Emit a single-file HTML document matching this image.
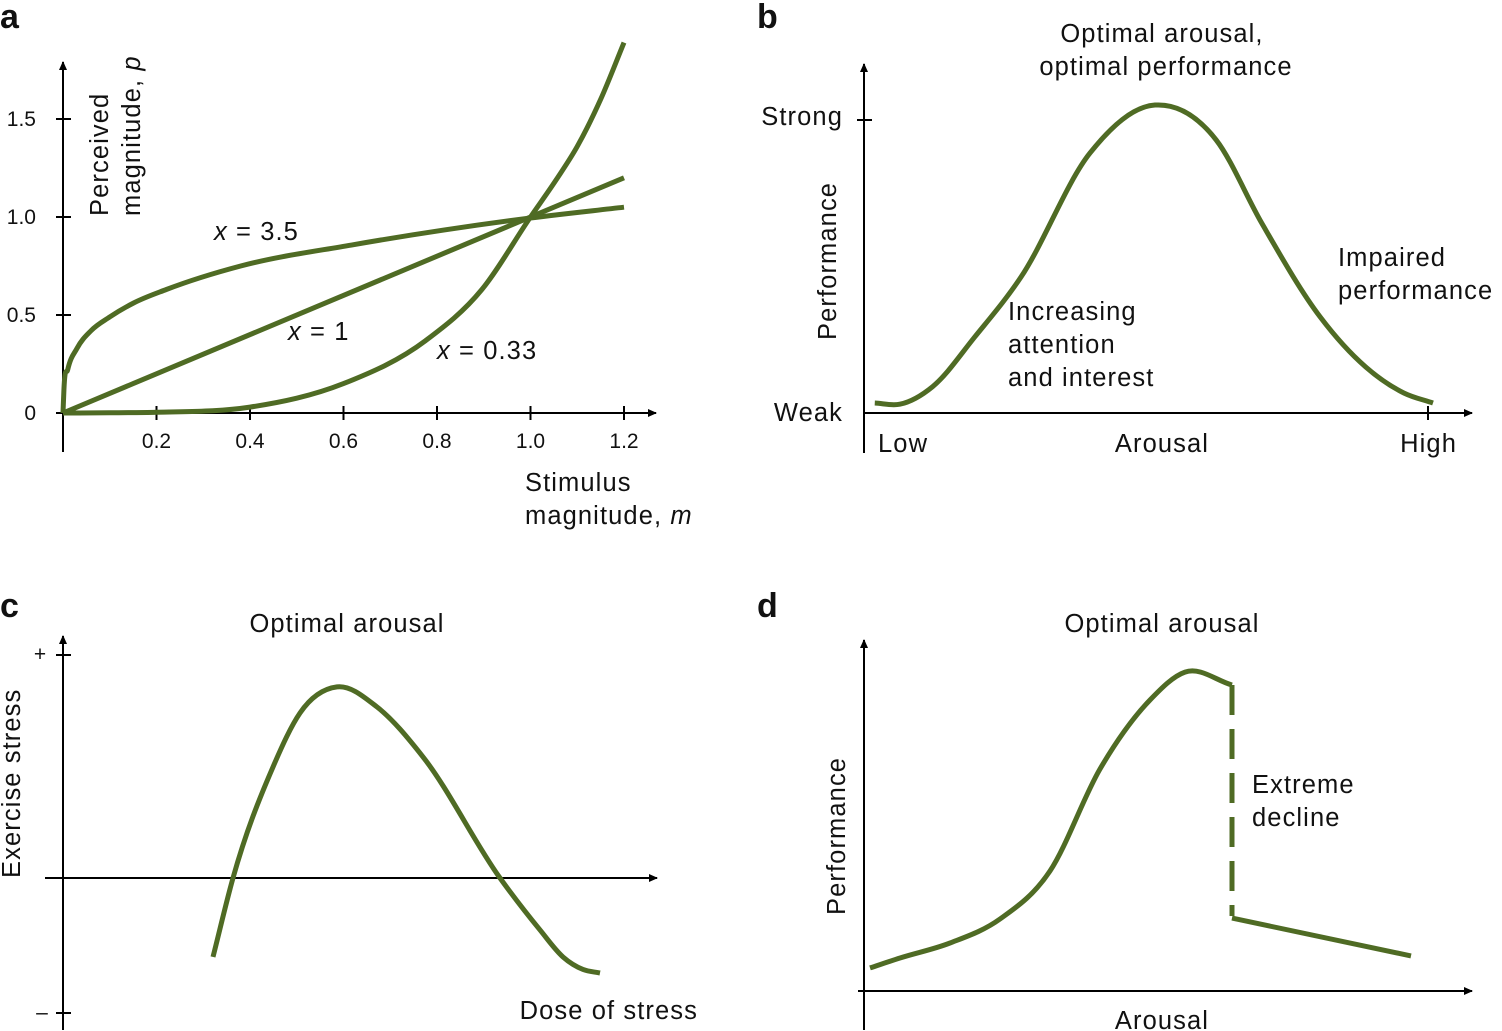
<!DOCTYPE html>
<html><head><meta charset="utf-8"><style>
body{margin:0;background:#fff}
svg{display:block;font-family:"Liberation Sans",sans-serif}
text{fill:#111}
.ax{stroke:#000;stroke-width:2;fill:none}
.cv{stroke:#4f6b24;stroke-width:5;fill:none;stroke-linecap:butt;stroke-linejoin:round}
.lbl{font-size:25.5px;letter-spacing:1.1px}
.tk{font-size:21px}
.pl{font-size:34px;font-weight:bold}
</style></head><body>
<svg id="s" width="1502" height="1031" viewBox="0 0 1502 1031">
<defs><marker id="ar" markerWidth="10" markerHeight="10" refX="8" refY="5" orient="auto" markerUnits="userSpaceOnUse"><path d="M0,1 L9,5 L0,9 Z" fill="#000"/></marker></defs>
<!-- panel a -->
<g>
<text class="pl" x="0" y="28">a</text>
<line class="ax" x1="63" y1="452" x2="63" y2="62" marker-end="url(#ar)"/>
<line class="ax" x1="56" y1="413" x2="656" y2="413" marker-end="url(#ar)"/>
<g id="aTicks"></g>
<text class="lbl" transform="translate(108,216) rotate(-90)">Perceived</text>
<text class="lbl" transform="translate(140,216) rotate(-90)">magnitude, <tspan font-style="italic">p</tspan></text>
<text class="lbl" x="525" y="491">Stimulus</text>
<text class="lbl" x="525" y="524">magnitude, <tspan font-style="italic">m</tspan></text>
<text class="lbl" x="214" y="240"><tspan font-style="italic">x</tspan> = 3.5</text>
<text class="lbl" x="288" y="340"><tspan font-style="italic">x</tspan> = 1</text>
<text class="lbl" x="437" y="359"><tspan font-style="italic">x</tspan> = 0.33</text>
<g id="aCurves"></g>
</g>
<!-- panel b -->
<g>
<text class="pl" x="757" y="28">b</text>
<line class="ax" x1="864" y1="453" x2="864" y2="64" marker-end="url(#ar)"/>
<line class="ax" x1="864" y1="413" x2="1472" y2="413" marker-end="url(#ar)"/>
<line class="ax" x1="857" y1="120" x2="872" y2="120"/>
<line class="ax" x1="1428" y1="406" x2="1428" y2="420"/>
<text class="lbl" x="843" y="125" text-anchor="end">Strong</text>
<text class="lbl" x="843" y="421" text-anchor="end">Weak</text>
<text class="lbl" x="878" y="452">Low</text>
<text class="lbl" x="1162" y="452" text-anchor="middle">Arousal</text>
<text class="lbl" x="1457" y="452" text-anchor="end">High</text>
<text class="lbl" transform="translate(836,340) rotate(-90)">Performance</text>
<text class="lbl" x="1162" y="42" text-anchor="middle">Optimal arousal,</text>
<text class="lbl" x="1166" y="75" text-anchor="middle">optimal performance</text>
<text class="lbl" x="1008" y="320">Increasing</text>
<text class="lbl" x="1008" y="353">attention</text>
<text class="lbl" x="1008" y="386">and interest</text>
<text class="lbl" x="1338" y="266">Impaired</text>
<text class="lbl" x="1338" y="299">performance</text>
<g id="bCurve"></g>
</g>
<!-- panel c -->
<g>
<text class="pl" x="0" y="617">c</text>
<line class="ax" x1="63" y1="1030" x2="63" y2="636" marker-end="url(#ar)"/>
<line class="ax" x1="45" y1="878" x2="657" y2="878" marker-end="url(#ar)"/>
<line class="ax" x1="56" y1="655" x2="71" y2="655"/>
<line class="ax" x1="56" y1="1013" x2="71" y2="1013"/>
<text class="tk" x="40" y="661" text-anchor="middle">+</text>
<text class="tk" x="42" y="1019" text-anchor="middle">–</text>
<text class="lbl" transform="translate(20,878) rotate(-90)">Exercise stress</text>
<text class="lbl" x="347" y="632" text-anchor="middle">Optimal arousal</text>
<text class="lbl" x="698" y="1019" text-anchor="end">Dose of stress</text>
<g id="cCurve"></g>
</g>
<!-- panel d -->
<g>
<text class="pl" x="757" y="617">d</text>
<line class="ax" x1="864" y1="1030" x2="864" y2="640" marker-end="url(#ar)"/>
<line class="ax" x1="858" y1="991" x2="1472" y2="991" marker-end="url(#ar)"/>
<text class="lbl" x="1162" y="632" text-anchor="middle">Optimal arousal</text>
<text class="lbl" x="1162" y="1029" text-anchor="middle">Arousal</text>
<text class="lbl" transform="translate(845,915) rotate(-90)">Performance</text>
<text class="lbl" x="1252" y="793">Extreme</text>
<text class="lbl" x="1252" y="826">decline</text>
<g id="dCurve"></g>
</g>
</svg>
<script>
// Panel a data
const aTickX=[0.2,0.4,0.6,0.8,1.0,1.2];
const aTickXLabels=["0.2","0.4","0.6","0.8","1.0","1.2"];
const aTickY=[0,0.5,1.0,1.5];
const aTickYLabels=["0","0.5","1.0","1.5"];
const mX35=[0,0.002,0.01,0.03,0.06,0.1,0.15,0.221,0.38,0.617,0.816,1.0,1.2];
const pX35=[0,0.12,0.22,0.33,0.42,0.49,0.56,0.63,0.75,0.857,0.934,0.995,1.05];
const mX1=[0,1.2];
const pX1=[0,1.2];
const mX033=[0,0.1,0.2,0.4,0.6,0.776,0.896,1.0,1.055,1.1,1.15,1.2];
const pX033=[0,0.001,0.004,0.03,0.15,0.37,0.63,1.0,1.19,1.36,1.6,1.89];
// Panel b data
const bArousal=[-0.04,0.41,1.0,1.76,2.59,3.83,5.0,6.10,6.92,7.97,8.79,9.48,10];
const bPerf=[0.034,0.03,0.09,0.26,0.464,0.887,1.051,0.932,0.648,0.328,0.157,0.068,0.034];
// Panel c data
const cDose=[1.50,1.70,2.10,2.37,2.74,3.14,3.60,4.37,4.77,5.0,5.2,5.37];
const cStress=[-0.354,0,0.498,0.740,0.857,0.767,0.543,0,-0.233,-0.354,-0.41,-0.426];
// Panel d data
const dArousal=[0.06,0.36,0.86,1.36,1.86,2.36,2.86,3.21,3.68];
const dPerf=[0.077,0.11,0.16,0.24,0.40,0.74,0.97,1.063,1.02];
const dDropArousal=[3.68,3.68];
const dDropPerf=[1.02,0.25];
const dTailArousal=[3.68,5.47];
const dTailPerf=[0.243,0.117];

const NS="http://www.w3.org/2000/svg";
const ax=m=>63+m*467.5, ay=p=>413-p*196;
const bx=v=>877+v*55.6, by=v=>413-v*293;
const cx=v=>63+v*100, cy=v=>878-v*223;
const dx=v=>864+v*100, dy=v=>991-v*300;
function smooth(P){
  const n=P.length;
  let d="M"+P[0][0]+","+P[0][1];
  if(n<3||P.some((p,i)=>i>0&&p[0]===P[i-1][0])){for(let i=1;i<n;i++)d+=" L"+P[i][0]+","+P[i][1];return d;}
  const s=[];for(let i=0;i<n-1;i++)s.push((P[i+1][1]-P[i][1])/(P[i+1][0]-P[i][0]));
  const m=[s[0]];
  for(let i=1;i<n-1;i++){const h0=P[i][0]-P[i-1][0],h1=P[i+1][0]-P[i][0];m.push((h0*s[i]+h1*s[i-1])/(h0+h1));}
  m.push(s[n-2]);
  for(let i=0;i<n-1;i++){
    const h=(P[i+1][0]-P[i][0])/3;
    d+=" C"+(P[i][0]+h)+","+(P[i][1]+m[i]*h)+" "+(P[i+1][0]-h)+","+(P[i+1][1]-m[i+1]*h)+" "+P[i+1][0]+","+P[i+1][1];
  }
  return d;
}
function curve(g,xs,ys,fx,fy,name,dash){
  const p=document.createElementNS(NS,"path");
  p.setAttribute("d",smooth(xs.map((v,i)=>[fx(v),fy(ys[i])])));
  p.setAttribute("class","cv");
  if(dash)p.setAttribute("stroke-dasharray",dash);
  
  
  document.getElementById(g).appendChild(p);
}
const tg=document.getElementById("aTicks");
aTickX.forEach((v,i)=>{
  const l=document.createElementNS(NS,"line");
  l.setAttribute("x1",ax(v));l.setAttribute("x2",ax(v));l.setAttribute("y1",406);l.setAttribute("y2",420);l.setAttribute("class","ax");
  
  
  tg.appendChild(l);
  const t=document.createElementNS(NS,"text");
  t.setAttribute("x",ax(v));t.setAttribute("y",448);t.setAttribute("text-anchor","middle");t.setAttribute("class","tk");
  t.textContent=aTickXLabels[i];
  
  
  tg.appendChild(t);
});
aTickY.forEach((v,i)=>{
  if(v>0){const l=document.createElementNS(NS,"line");
  l.setAttribute("x1",56);l.setAttribute("x2",71);l.setAttribute("y1",ay(v));l.setAttribute("y2",ay(v));l.setAttribute("class","ax");
  
  
  tg.appendChild(l);}
  const t=document.createElementNS(NS,"text");
  t.setAttribute("x",36);t.setAttribute("y",ay(v)+7);t.setAttribute("text-anchor","end");t.setAttribute("class","tk");
  t.textContent=aTickYLabels[i];
  
  
  tg.appendChild(t);
});
curve("aCurves",mX35,pX35,ax,ay,"curve-x35");
curve("aCurves",mX1,pX1,ax,ay,"curve-x1");
curve("aCurves",mX033,pX033,ax,ay,"curve-x033");
curve("bCurve",bArousal,bPerf,bx,by,"performance-curve-b");
curve("cCurve",cDose,cStress,cx,cy,"stress-curve-c");
curve("dCurve",dArousal,dPerf,dx,dy,"performance-curve-d");
curve("dCurve",dDropArousal,dDropPerf,dx,dy,"extreme-decline-dashed","30 14");
curve("dCurve",dTailArousal,dTailPerf,dx,dy,"post-decline-line");
</script>
</body></html>
